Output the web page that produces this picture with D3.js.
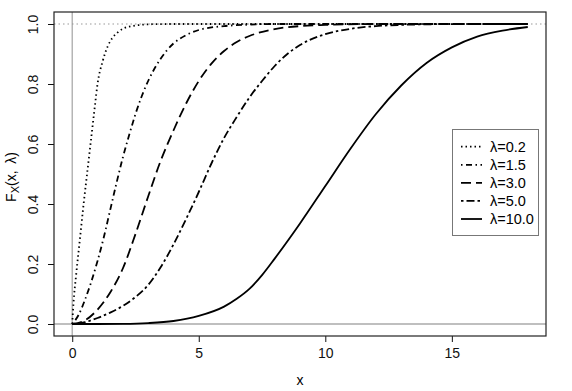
<!DOCTYPE html>
<head>
<meta charset="utf-8">
<script src="https://cdn.jsdelivr.net/npm/d3@7"></script>
<style>
  body { margin: 0; background: #fff; }
  svg { display: block; font-family: "Liberation Sans", Arial, sans-serif; }
  .tick text { font-size: 14px; fill: #111; }
</style>
</head>
<body>
<script>
// values
var lambdas = ["0.2", "1.5", "3.0", "5.0", "10.0"];

var x02 = [0, 0.05, 0.15, 0.3, 0.45, 0.6, 0.75, 0.9, 1.0, 1.2, 1.4, 1.6, 1.8, 2.0, 2.3, 2.6, 3, 4, 18];
var y02 = [0, 0.07, 0.16, 0.28, 0.40, 0.51, 0.62, 0.73, 0.80, 0.875, 0.925, 0.955, 0.972, 0.984, 0.992, 0.996, 0.999, 1, 1];

var x15 = [0, 0.25, 0.5, 0.75, 1, 1.25, 1.5, 1.75, 2, 2.25, 2.5, 2.75, 3, 3.5, 4, 4.5, 5, 6, 7, 8, 18];
var y15 = [0, 0.03, 0.08, 0.14, 0.21, 0.29, 0.38, 0.47, 0.555, 0.63, 0.70, 0.76, 0.81, 0.885, 0.935, 0.963, 0.98, 0.993, 0.998, 1, 1];

var x30 = [0, 0.5, 1, 1.5, 2, 2.5, 3, 3.5, 4, 4.5, 5, 5.5, 6, 6.5, 7, 8, 9, 10, 12, 18];
var y30 = [0, 0.012, 0.048, 0.105, 0.185, 0.30, 0.425, 0.545, 0.645, 0.735, 0.81, 0.868, 0.91, 0.94, 0.96, 0.983, 0.993, 0.997, 1, 1];

var x50 = [0, 0.5, 1, 1.5, 2, 2.5, 3, 3.5, 4, 4.5, 5, 5.5, 6, 6.5, 7, 7.5, 8, 8.5, 9, 10, 11, 12, 13, 14, 16, 18];
var y50 = [0, 0.006, 0.02, 0.038, 0.06, 0.09, 0.13, 0.19, 0.265, 0.35, 0.44, 0.535, 0.62, 0.69, 0.755, 0.81, 0.86, 0.9, 0.93, 0.966, 0.984, 0.993, 0.997, 0.999, 1, 1];

var x100 = [0, 1, 2, 3, 4, 5, 6, 6.5, 7, 7.5, 8, 9, 10, 11, 12, 13, 14, 15, 16, 17, 18];
var y100 = [0, 0, 0.0005, 0.003, 0.01, 0.027, 0.058, 0.084, 0.117, 0.163, 0.218, 0.335, 0.46, 0.585, 0.70, 0.795, 0.87, 0.922, 0.958, 0.978, 0.99];

var xTicks = [0, 5, 10, 15];
var yTicks = [0, 0.2, 0.4, 0.6, 0.8, 1.0];

var series = [
  { xs: x02, ys: y02, dash: "1.5,3" },
  { xs: x15, ys: y15, dash: "1.5,3.5,6,3.5" },
  { xs: x30, ys: y30, dash: "10,5" },
  { xs: x50, ys: y50, dash: "2.5,3,8,3" },
  { xs: x100, ys: y100, dash: null }
];

var W = 572, H = 391;
var pL = 54, pR = 546, pT = 12, pB = 336;

var x = d3.scaleLinear().domain([-0.72, 18.72]).range([pL, pR]);
var y = d3.scaleLinear().domain([-0.04, 1.04]).range([pB, pT]);

var svg = d3.select("body").append("svg")
  .attr("width", W).attr("height", H);

svg.append("rect").attr("width", W).attr("height", H).attr("fill", "#fff");

// reference lines
svg.append("line")
  .attr("x1", pL).attr("x2", pR)
  .attr("y1", y(0)).attr("y2", y(0))
  .attr("stroke", "#aaa").attr("stroke-width", 1.3);
svg.append("line")
  .attr("x1", x(0)).attr("x2", x(0))
  .attr("y1", pT).attr("y2", pB)
  .attr("stroke", "#aaa").attr("stroke-width", 1.3);
svg.append("line")
  .attr("x1", pL).attr("x2", pR)
  .attr("y1", y(1)).attr("y2", y(1))
  .attr("stroke", "#999").attr("stroke-width", 1.2)
  .attr("stroke-dasharray", "1.5,3");

var line = d3.line()
  .x(function (d) { return x(d[0]); })
  .y(function (d) { return y(d[1]); })
  .curve(d3.curveMonotoneX);

var plot = svg.append("g");
plot.append("clipPath").attr("id", "clip")
  .append("rect").attr("x", pL).attr("y", pT)
  .attr("width", pR - pL).attr("height", pB - pT);

series.forEach(function (s) {
  var pts = s.xs.map(function (v, i) { return [v, s.ys[i]]; });
  plot.append("path")
    .attr("d", line(pts))
    .attr("fill", "none")
    .attr("stroke", "#000")
    .attr("stroke-width", 1.8)
    .attr("stroke-dasharray", s.dash)
    .attr("clip-path", "url(#clip)");
});

// axes
var xAxis = d3.axisBottom(x).tickValues(xTicks).tickSize(6).tickPadding(6)
  .tickFormat(d3.format("d"));
svg.append("g").attr("transform", "translate(0," + pB + ")")
  .call(xAxis)
  .call(function (g) { g.select(".domain").remove(); })
  .selectAll(".tick line").attr("stroke", "#111");

var yAxis = d3.axisLeft(y).tickValues(yTicks).tickSize(6)
  .tickFormat(d3.format(".1f"));
var gy = svg.append("g").attr("transform", "translate(" + pL + ",0)")
  .call(yAxis)
  .call(function (g) { g.select(".domain").remove(); });
gy.selectAll(".tick line").attr("stroke", "#111");
gy.selectAll(".tick text")
  .attr("transform", "rotate(-90)")
  .attr("x", 0).attr("y", -21)
  .attr("dy", "0.35em")
  .attr("text-anchor", "middle");

// box
svg.append("rect")
  .attr("x", pL).attr("y", pT)
  .attr("width", pR - pL).attr("height", pB - pT)
  .attr("fill", "none").attr("stroke", "#222").attr("stroke-width", 1.2);

// axis titles
svg.append("text")
  .attr("x", (pL + pR) / 2).attr("y", 385)
  .attr("text-anchor", "middle").attr("font-size", 14).text("x");

var yl = svg.append("text")
  .attr("transform", "translate(16,177) rotate(-90)")
  .attr("text-anchor", "middle").attr("font-size", 14);
yl.append("tspan").text("F");
yl.append("tspan").attr("font-size", 11).attr("dy", 3).text("X");
yl.append("tspan").attr("dy", -3).text("(x,\u2009 λ)");

// legend
var lg = svg.append("g");
lg.append("rect")
  .attr("x", 452.5).attr("y", 129.5).attr("width", 86).attr("height", 106)
  .attr("fill", "#fff").attr("stroke", "#777").attr("stroke-width", 1);

var rowY = d3.scaleLinear().domain([0, 4]).range([146.7, 219]);
series.forEach(function (s, i) {
  lg.append("line")
    .attr("x1", 461).attr("x2", 482)
    .attr("y1", rowY(i)).attr("y2", rowY(i))
    .attr("stroke", "#000").attr("stroke-width", 1.8)
    .attr("stroke-dasharray", s.dash);
  lg.append("text")
    .attr("x", 490).attr("y", rowY(i)).attr("dy", "0.35em")
    .attr("font-size", 14.5).text("λ=" + lambdas[i]);
});
</script>
</body>
